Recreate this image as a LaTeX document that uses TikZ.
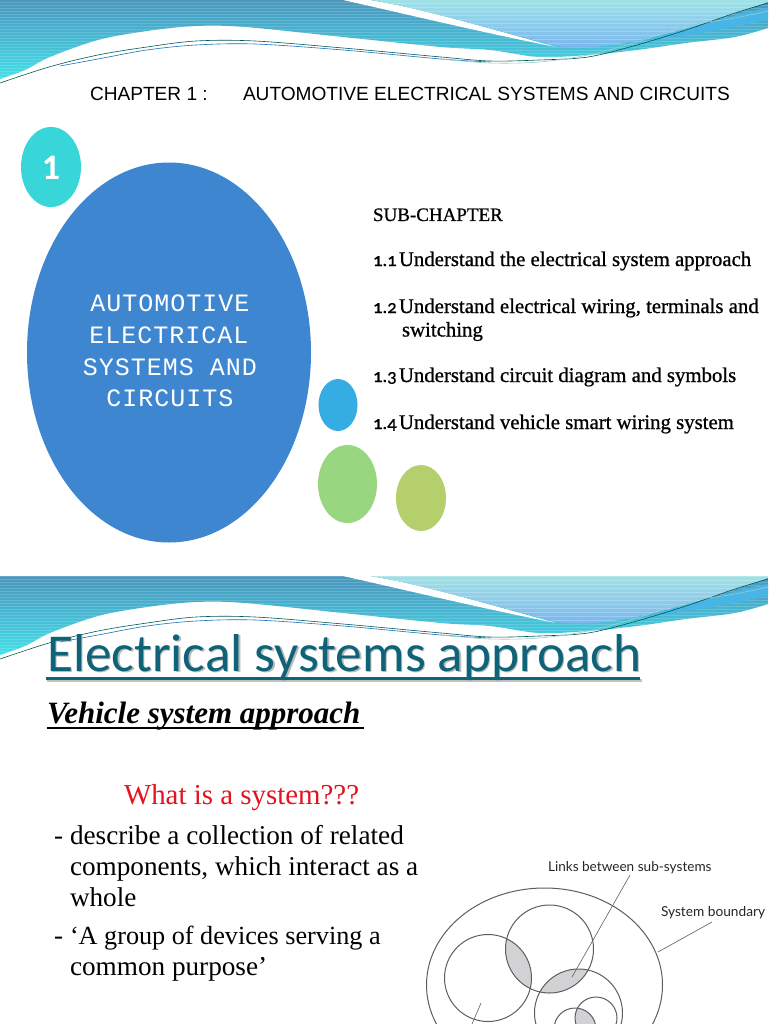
\documentclass[tikz,border=0pt]{standalone}
\usepackage{fontspec}
\setmainfont{Liberation Serif}
\newfontfamily\hdfont{Liberation Sans}
\newfontfamily\titlefont{Carlito}
\newfontfamily\subfont{Liberation Serif}[RawFeature={embolden=0.8}]
\newfontfamily\onumfont{Carlito}[Numbers=OldStyle,Scale=.9,RawFeature={embolden=0.8}]
\newfontfamily\spacedfont{Liberation Mono}[LetterSpace=4]
\newfontfamily\labelfont{Lato}
\usetikzlibrary{calc}
\definecolor{bigblue}{HTML}{3E86D0}
\definecolor{cyanblob}{HTML}{38D6D8}
\definecolor{midblue}{HTML}{35ADE3}
\definecolor{greenblob}{HTML}{98D680}
\definecolor{oliveblob}{HTML}{B4CF6C}
\definecolor{titleteal}{HTML}{0F6378}
\definecolor{whatred}{HTML}{E3131F}
\definecolor{linkgray}{HTML}{D2D2D4}
\definecolor{linegray}{HTML}{5E5E5E}
\tikzset{
  txt/.style={anchor=base west,inner sep=0pt,outer sep=0pt,text=black},
  blob/.style={draw=none},
  ring/.style={draw=linegray,line width=1pt},
  leader/.style={draw=linegray,line width=.6pt},
  thinribbon/.style={line width=.6pt}
}
\newcommand{\fs}[1]{\fontsize{#1}{#1}\selectfont}
\newcommand{\onum}[1]{{\onumfont #1}\hspace{-3pt}}
\newcommand{\mainshape}{(0,0) -- (768,0) -- (768,28) -- plot[smooth,tension=.55] coordinates {(768,28) (735,37) (686,43) (637,50) (588,55) (539,57) (490,50) (441,47) (343,37) (245,27) (196,26) (147,31) (98,40) (50,57) (25,70) (0,79)} -- cycle}
\newcommand{\lightshape}{(370,0) .. controls (420,8) and (480,26) .. (556,46) .. controls (600,52) and (660,40) .. (768,2) -- (768,0) -- cycle}
\newcommand{\banner}{%
  \begin{scope}
    \clip \mainshape;
    \shade[top color={rgb,255:red,74;green,150;blue,190},middle color={rgb,255:red,78;green,178;blue,208},bottom color={rgb,255:red,68;green,224;blue,234}] (0,0) rectangle (768,80);
    \foreach \yy in {0,3,...,78} {\draw[white,opacity=.16,line width=1pt] (0,\yy) -- (768,\yy);}
  \end{scope}
  \fill[white] (343,0) .. controls (410,15) and (480,32) .. (556,47) .. controls (480,26) and (420,8) .. (370,0) -- cycle;
  \begin{scope}
    \clip \lightshape;
    \shade[top color={rgb,255:red,160;green,226;blue,230},bottom color={rgb,255:red,120;green,180;blue,238}] (340,0) rectangle (768,50);
    \foreach \yy in {0,4,...,50} {\draw[white,opacity=.22,line width=1pt] (340,\yy) -- (768,\yy);}
  \end{scope}
  \fill[midblue!90!white] (640,41) .. controls (690,30) and (730,15) .. (768,8) -- (768,20) .. controls (730,28) and (690,36) .. (640,41) -- cycle;
  \draw[thinribbon,draw=teal!70!black] plot[smooth,tension=.55] coordinates {(0,83) (49,67) (98,55) (147,47) (196,41) (255,41) (343,48) (441,57) (490,61) (539,60) (588,57) (637,45) (686,30) (735,13) (768,3)};
  \draw[thinribbon,draw=cyan!50!blue] plot[smooth,tension=.55] coordinates {(60,66) (98,59) (147,50) (196,45) (255,44) (343,50) (441,59) (490,62)};
  \draw[thinribbon,draw=white!60!teal] plot[smooth,tension=.55] coordinates {(441,59) (490,63) (539,62) (588,55) (637,42) (686,26) (735,18) (768,11)};
}
\begin{document}
\begin{tikzpicture}[x=1pt,y=-1pt]
\useasboundingbox (0,0) rectangle (768,1024);
\fill[white] (0,0) rectangle (768,1024);
\begin{scope}
  \clip (0,0) rectangle (768,1024);
  % ---- slide one
  \banner
  \node[txt] (chap) at (90,101) {\hdfont\fs{19.1}CHAPTER 1 :};
  \node[txt] (chapname) at (243,101) {\hdfont\fs{19.1}AUTOMOTIVE ELECTRICAL SYSTEMS AND CIRCUITS};
  \fill[blob,bigblue] (169,352.5) ellipse [x radius=142,y radius=190];
  \fill[blob,cyanblob] (51,167) ellipse [x radius=30,y radius=40];
  \fill[blob,midblue] (338,405) ellipse [x radius=19.5,y radius=26];
  \fill[blob,greenblob] (347.5,484) ellipse [x radius=29.5,y radius=39];
  \fill[blob,oliveblob] (421,498) ellipse [x radius=25,y radius=33];
  \node[inner sep=0pt,text=white] (num) at (51,168) {\titlefont\bfseries\fs{36}1};
  \node[inner sep=0pt,text=white] (t1) at (170,303) {\spacedfont\fs{25}AUTOMOTIVE};
  \node[inner sep=0pt,text=white] (t2) at (169,335) {\spacedfont\fs{25}ELECTRICAL};
  \node[inner sep=0pt,text=white] (t3) at (170,367) {\spacedfont\fs{25}SYSTEMS AND};
  \node[inner sep=0pt,text=white] (t4) at (170,398) {\spacedfont\fs{25}CIRCUITS};
  \node[txt] (sub0) at (373,221) {\subfont\fs{19}SUB-CHAPTER};
  \node[txt] (sub1) at (373,266) {\subfont\fs{20.8}\onum{1.1} Understand the electrical system approach};
  \node[txt] (sub2) at (373,313) {\subfont\fs{20.8}\onum{1.2} Understand electrical wiring, terminals and};
  \node[txt] (sub2b) at (402,336.5) {\subfont\fs{20.8}switching};
  \node[txt] (sub3) at (373,382) {\subfont\fs{20.8}\onum{1.3} Understand circuit diagram and symbols};
  \node[txt] (sub4) at (373,429) {\subfont\fs{20.8}\onum{1.4} Understand vehicle smart wiring system};
  % ---- slide two
  \begin{scope}[shift={(0,576)}]
    \banner
  \end{scope}
  \node[txt,text=black!45,opacity=.6] (titleshadow) at (48.5,672.5) {\titlefont\fs{53.3}Electrical systems approach};
  \draw[black!40,opacity=.6,line width=3.5pt] (47,680.5) -- (642,680.5);
  \node[txt,text=titleteal] (title) at (47,671) {\titlefont\fs{53.3}Electrical systems approach};
  \draw[titleteal,line width=3.5pt] (46,678.5) -- (640,678.5);
  \node[txt] (vehicle) at (47,723) {\bfseries\itshape\fs{31}Vehicle system approach};
  \draw[black,line width=1.6pt] (47,728) -- (364,728);
  \node[txt,text=whatred] (what) at (124,804) {\fs{28.9}What is a system???};
  \node[txt] (d1) at (54,844) {\fs{27}-};
  \node[txt] (b1) at (70,844) {\fs{27.2}describe a collection of related};
  \node[txt] (b2) at (70,875) {\fs{27.2}components, which interact as a};
  \node[txt] (b3) at (70,906) {\fs{27.2}whole};
  \node[txt] (d2) at (54,944) {\fs{27}-};
  \node[txt] (b4) at (70,944) {\fs{26.2}‘A group of devices serving a};
  \node[txt] (b5) at (70,975) {\fs{27.2}common purpose’};
  % ---- sub-systems figure
  \begin{scope}
    \clip (488,978) circle [radius=43.5];
    \fill[linkgray] (549.5,949) circle [radius=44];
  \end{scope}
  \begin{scope}
    \clip (549.5,949) circle [radius=44];
    \fill[linkgray] (578.5,1013) circle [radius=44];
  \end{scope}
  \begin{scope}
    \clip (596,1018) circle [radius=21];
    \fill[linkgray] (575,1029) circle [radius=21];
  \end{scope}
  \draw[ring] (544.5,985) ellipse [x radius=118,y radius=97];
  \draw[ring] (488,978) circle [radius=43.5];
  \draw[ring] (549.5,949) circle [radius=44];
  \draw[ring] (578.5,1013) circle [radius=44];
  \draw[ring] (596,1018) circle [radius=21];
  \draw[ring] (575,1029) circle [radius=21];
  \node[txt,text=black!85] (linkslabel) at (548,871.5) {\labelfont\fs{13.6}Links between sub-systems};
  \node[txt,text=black!85] (boundlabel) at (661,916) {\labelfont\fs{13.7}System boundary};
  \coordinate (linkend) at (572,977);
  \coordinate (linkstart) at (630,875);
  \coordinate (boundstart) at (712,922);
  \coordinate (boundend) at (658,952);
  \coordinate (lowstart) at (481,1003);
  \coordinate (lowend) at (472,1024);
  \draw[leader] (linkstart) -- (linkend);
  \draw[leader] (boundstart) -- (boundend);
  \draw[leader] (lowstart) -- (lowend);
\end{scope}
\end{tikzpicture}
\end{document}
